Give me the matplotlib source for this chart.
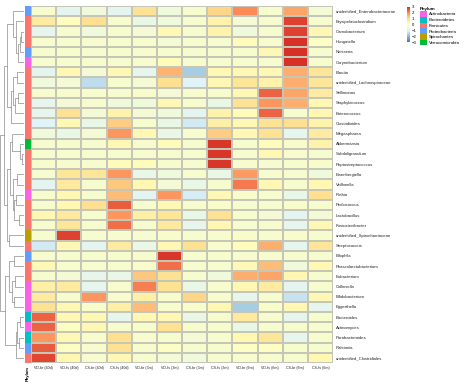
import numpy as np
import matplotlib
matplotlib.use("Agg")
import matplotlib.pyplot as plt
from matplotlib.colors import LinearSegmentedColormap, Normalize
from matplotlib.cm import ScalarMappable
from matplotlib.patches import Patch

plt.rcParams['font.family'] = ['Liberation Sans', 'DejaVu Sans']

# ---------------------------------------------------------------
# data (row z-scores)
# ---------------------------------------------------------------
samples = ["VD-br (40d)", "VD-fs (40d)", "CS-br (40d)", "CS-fs (40d)",
           "VD-br (3m)", "VD-fs (3m)", "CS-br (3m)", "CS-fs (3m)",
           "VD-br (6m)", "VD-fs (6m)", "CS-br (6m)", "CS-fs (6m)"]

genera = ["unidentified_Enterobacteriaceae", "Erysipelatoclostridium", "Carnobacterium",
          "Hungatella", "Neisseria", "Corynebacterium", "Blautia",
          "unidentified_Lachnospiraceae", "Sellimonas", "Staphylococcus", "Enterococcus",
          "Clostridioides", "Megasphaera", "Akkermansia", "Subdoligranulum",
          "Peptostreptococcus", "Eisenbergiella", "Veillonella", "Rothia", "Pediococcus",
          "Lactobacillus", "Fusicatenibacter", "unidentified_Spirochaetaceae",
          "Streptococcus", "Bilophila", "Phascolarctobacterium", "Eubacterium",
          "Collinsella", "Bifidobacterium", "Eggerthella", "Bacteroides", "Actinomyces",
          "Parabacteroides", "Ralstonia", "unidentified_Clostridiales"]

phylum = ["Proteobacteria", "Firmicutes", "Firmicutes", "Firmicutes", "Proteobacteria",
          "Actinobacteria", "Firmicutes", "Firmicutes", "Firmicutes", "Firmicutes",
          "Firmicutes", "Firmicutes", "Firmicutes", "Verrucomicrobia", "Firmicutes",
          "Firmicutes", "Firmicutes", "Firmicutes", "Actinobacteria", "Firmicutes",
          "Firmicutes", "Firmicutes", "Spirochaetes", "Firmicutes", "Proteobacteria",
          "Firmicutes", "Firmicutes", "Actinobacteria", "Actinobacteria", "Actinobacteria",
          "Bacteroidetes", "Actinobacteria", "Bacteroidetes", "Proteobacteria", "Firmicutes"]

phylum_names = ["Actinobacteria", "Bacteroidetes", "Firmicutes",
                "Proteobacteria", "Spirochaetes", "Verrucomicrobia"]
phylum_colors = ["#F564E3", "#00BFC4", "#F8766D", "#619CFF", "#B79F00", "#00BA38"]

zscores = [
    [-0.3, -0.9, -0.5, -0.9, 0.9, -0.5, -0.3, 1.1, 2.0, -0.3, 1.7, -0.4],
    [0.6, 0.0, 1.0, -0.3, -0.7, -0.5, -0.3, 0.4, -0.4, -0.3, 2.8, -0.3],
    [-0.8, -0.3, -0.5, -0.3, -0.4, 0.2, -0.3, 0.4, -0.5, -0.3, 2.8, 0.2],
    [-0.3, -0.3, -0.3, -0.3, -0.3, -0.4, -0.3, -0.3, 0.1, -0.3, 3.0, -0.1],
    [-0.3, -0.3, -0.3, -0.3, -0.3, -0.3, -0.3, -0.3, -0.3, 0.2, 3.0, -0.3],
    [-0.3, -0.3, -0.3, -0.3, -0.3, 0.1, -0.3, -0.3, -0.3, -0.3, 3.0, -0.3],
    [-0.9, 0.3, -0.4, 0.2, -0.8, 1.5, -1.7, 0.2, 0.2, 0.2, 1.6, 0.8],
    [-0.5, -0.4, -1.4, -0.3, -0.4, 1.0, -1.0, 0.2, 0.8, 0.4, 1.6, 0.8],
    [-0.3, -0.3, -0.3, -0.3, -0.2, -0.4, -0.3, -0.3, 0.2, 2.4, 1.7, 0.6],
    [-0.8, -0.4, -0.3, -0.5, -0.5, 0.2, -0.3, -0.7, 0.9, 1.9, 1.6, 0.3],
    [-0.8, 0.9, -0.4, 0.4, -0.4, -0.5, -0.9, 0.4, 0.1, 2.4, -0.3, 0.3],
    [-1.0, 0.2, -0.7, 1.2, -0.3, -0.7, -1.2, 0.5, 0.2, 0.9, 1.0, 0.4],
    [-0.5, -0.7, -0.4, 1.9, 0.2, -0.7, -0.3, 1.2, 0.3, 0.9, -0.8, 0.6],
    [-0.3, -0.3, -0.3, 0.2, -0.3, 0.1, -0.3, 2.9, -0.3, 0.1, -0.2, 0.4],
    [-0.3, -0.3, -0.3, -0.3, -0.3, -0.3, -0.3, 2.9, -0.3, 0.2, -0.3, -0.3],
    [-0.3, -0.3, -0.3, 0.1, 0.1, -0.3, -0.3, 2.9, -0.3, -0.3, -0.3, -0.2],
    [-0.3, 0.8, 0.8, 1.9, -0.7, -0.5, -0.3, -0.7, 1.8, -0.3, -0.3, -0.5],
    [-0.9, 0.7, -0.3, 1.3, 0.3, -0.4, -0.7, -0.3, 2.2, 0.2, -0.3, 0.3],
    [-0.3, 0.3, -0.3, 1.4, -0.9, 1.9, -1.1, 0.2, -0.2, -0.3, -0.7, 1.0],
    [-0.3, 0.3, 1.0, 2.5, -0.3, 0.2, -0.3, -0.2, -0.3, -0.3, -0.2, -0.3],
    [0.3, 0.7, -0.3, 1.9, 0.5, 0.8, -0.7, 0.9, -0.3, -0.4, -0.9, -0.4],
    [-0.3, 0.8, -0.3, 2.3, -0.3, 0.7, -0.8, 0.3, -0.3, -0.3, -0.8, 0.2],
    [-0.3, 2.8, -0.3, -0.3, -0.3, -0.2, -0.3, -0.3, -0.2, -0.3, -0.2, -0.3],
    [-1.2, 0.3, -0.9, 0.6, -0.7, 0.2, 0.9, -0.3, 0.1, 1.6, -0.8, 0.8],
    [-0.3, -0.3, -0.3, -0.3, -0.3, 2.9, -0.3, -0.3, -0.3, -0.3, -0.3, -0.3],
    [0.2, -0.3, -0.3, -0.3, -0.2, 2.3, -0.3, -0.3, 0.2, 1.4, -0.5, 0.2],
    [-0.3, -0.4, -0.8, -0.7, 1.3, 0.9, -0.3, -0.5, 1.6, 1.7, 0.3, -0.3],
    [0.5, 0.6, -0.8, -0.3, 2.1, 0.9, -0.7, -0.3, 0.3, 0.6, -0.9, -0.3],
    [0.6, -0.3, 1.9, -0.3, 0.5, -0.2, 1.1, -0.3, -0.8, -0.3, -1.3, 0.2],
    [0.9, 0.2, -0.2, 0.5, 1.4, -0.3, -0.2, 0.2, -1.7, -0.2, 0.3, -0.8],
    [2.4, 0.2, 0.2, -0.8, 0.3, 0.3, -0.7, -0.3, 0.7, -0.3, -0.8, -0.3],
    [2.4, -0.1, 0.2, -0.3, -0.2, 0.9, -0.3, -0.3, -0.7, -0.3, -0.3, -0.3],
    [1.9, 0.2, -0.3, 1.0, -0.3, -0.3, -0.4, -0.3, 0.3, 0.8, -0.8, -0.3],
    [2.5, -0.1, -0.3, 0.9, -0.3, -0.1, -0.3, -0.3, -0.1, -0.1, -0.3, -0.3],
    [2.7, 0.3, -0.3, 0.2, -0.3, -0.4, -0.5, -0.3, -0.3, -0.3, -0.3, 0.3],
]

# row tree, linkage style: (left, right, height); ids >= 35 are earlier merges
merges = [
    (2, 3, 0.6), (35, 4, 0.9), (36, 5, 1.2), (1, 37, 1.6), (0, 38, 2.4),          # 35-39
    (6, 7, 1.5), (8, 9, 1.2), (41, 10, 1.8), (40, 42, 2.4), (43, 11, 2.8),         # 40-44
    (39, 44, 3.6),                                                                # 45
    (14, 15, 0.5), (13, 46, 0.8), (12, 47, 2.6), (16, 17, 1.4), (18, 19, 1.6),     # 46-50
    (20, 21, 1.0), (50, 51, 2.0), (49, 52, 2.3), (48, 53, 2.9), (22, 23, 3.2),     # 51-55
    (54, 55, 3.5),                                                                # 56
    (24, 25, 2.2), (26, 27, 1.8), (28, 29, 2.0), (58, 59, 2.6), (57, 60, 3.2),     # 57-61
    (30, 31, 0.9), (32, 33, 1.1), (62, 63, 1.4), (64, 34, 1.7), (61, 65, 4.0),     # 62-66
    (45, 56, 4.3), (67, 66, 5.0),                                                  # 67-68
]

# ---------------------------------------------------------------
# figure
# ---------------------------------------------------------------
W, H = 474, 391
fig = plt.figure(figsize=(W / 100, H / 100), dpi=100)

def px_axes(x0, y0, x1, y1):
    return fig.add_axes([x0 / W, 1 - y1 / H, (x1 - x0) / W, (y1 - y0) / H])

n_rows, n_cols = len(genera), len(samples)
palette = ['#4575B4', '#91BFDB', '#E0F3F8', '#FFFFBF', '#FEE090', '#FC8D59', '#D73027']
cmap = LinearSegmentedColormap.from_list('rdylbu_r', palette, N=100)
norm = Normalize(vmin=-3, vmax=3)

# heatmap
ax = px_axes(31, 6, 333, 363)
ax.pcolormesh(np.array(zscores), cmap=cmap, norm=norm,
              edgecolors='#c6c6b6', linewidth=0.3)
ax.set_xlim(0, n_cols)
ax.set_ylim(n_rows, 0)
ax.set_yticks(np.arange(n_rows) + 0.5)
ax.set_yticklabels(genera, fontsize=3.1, color='#222222')
ax.yaxis.tick_right()
ax.set_xticks(np.arange(n_cols) + 0.5)
ax.set_xticklabels(samples, fontsize=2.6, color='#222222')
ax.tick_params(length=0, pad=2)
for s in ax.spines.values():
    s.set_visible(False)

# phylum annotation bar
ax_ann = px_axes(25, 6, 31, 363)
col_of = dict(zip(phylum_names, phylum_colors))
ax_ann.barh(np.arange(n_rows) + 0.5, 1, height=1,
            color=[col_of[p] for p in phylum], edgecolor='none')
ax_ann.set_xlim(0, 1)
ax_ann.set_ylim(n_rows, 0)
ax_ann.axis('off')
fig.text(28 / W, 1 - 366 / H, "Phylum", rotation=90, fontsize=3.1,
         fontweight='bold', ha='center', va='top')

# row dendrogram
ax_d = px_axes(0, 6, 24, 363)
pos = {i: (0.0, i + 0.5) for i in range(n_rows)}
for k, (a, b, h) in enumerate(merges):
    ha_, ya = pos[a]
    hb, yb = pos[b]
    ax_d.plot([ha_, h, h, hb], [ya, ya, yb, yb], color='#8c8c8c', lw=0.5)
    pos[n_rows + k] = (h, (ya + yb) / 2)
ax_d.set_xlim(5.05, 0)
ax_d.set_ylim(n_rows, 0)
ax_d.axis('off')

# colour legend
ax_cb = px_axes(407, 7, 410, 42)
cb = fig.colorbar(ScalarMappable(norm=norm, cmap=cmap), cax=ax_cb,
                  ticks=[-3, -2, -1, 0, 1, 2, 3])
cb.outline.set_visible(False)
cb.ax.tick_params(labelsize=3.1, length=0, pad=1.5)

# phylum legend
handles = [Patch(facecolor=c, edgecolor='none', label=n)
           for n, c in zip(phylum_names, phylum_colors)]
leg = fig.legend(handles=handles, title="Phylum", loc='upper left',
                 bbox_to_anchor=(417 / W, 1 - 4 / H), frameon=False,
                 fontsize=3.2, title_fontsize=3.2, handlelength=1.6,
                 handleheight=1.6, labelspacing=0.0, handletextpad=0.4,
                 borderpad=0.2, alignment='left')
leg.get_title().set_fontweight('bold')

fig.savefig("out.png", dpi=100)
